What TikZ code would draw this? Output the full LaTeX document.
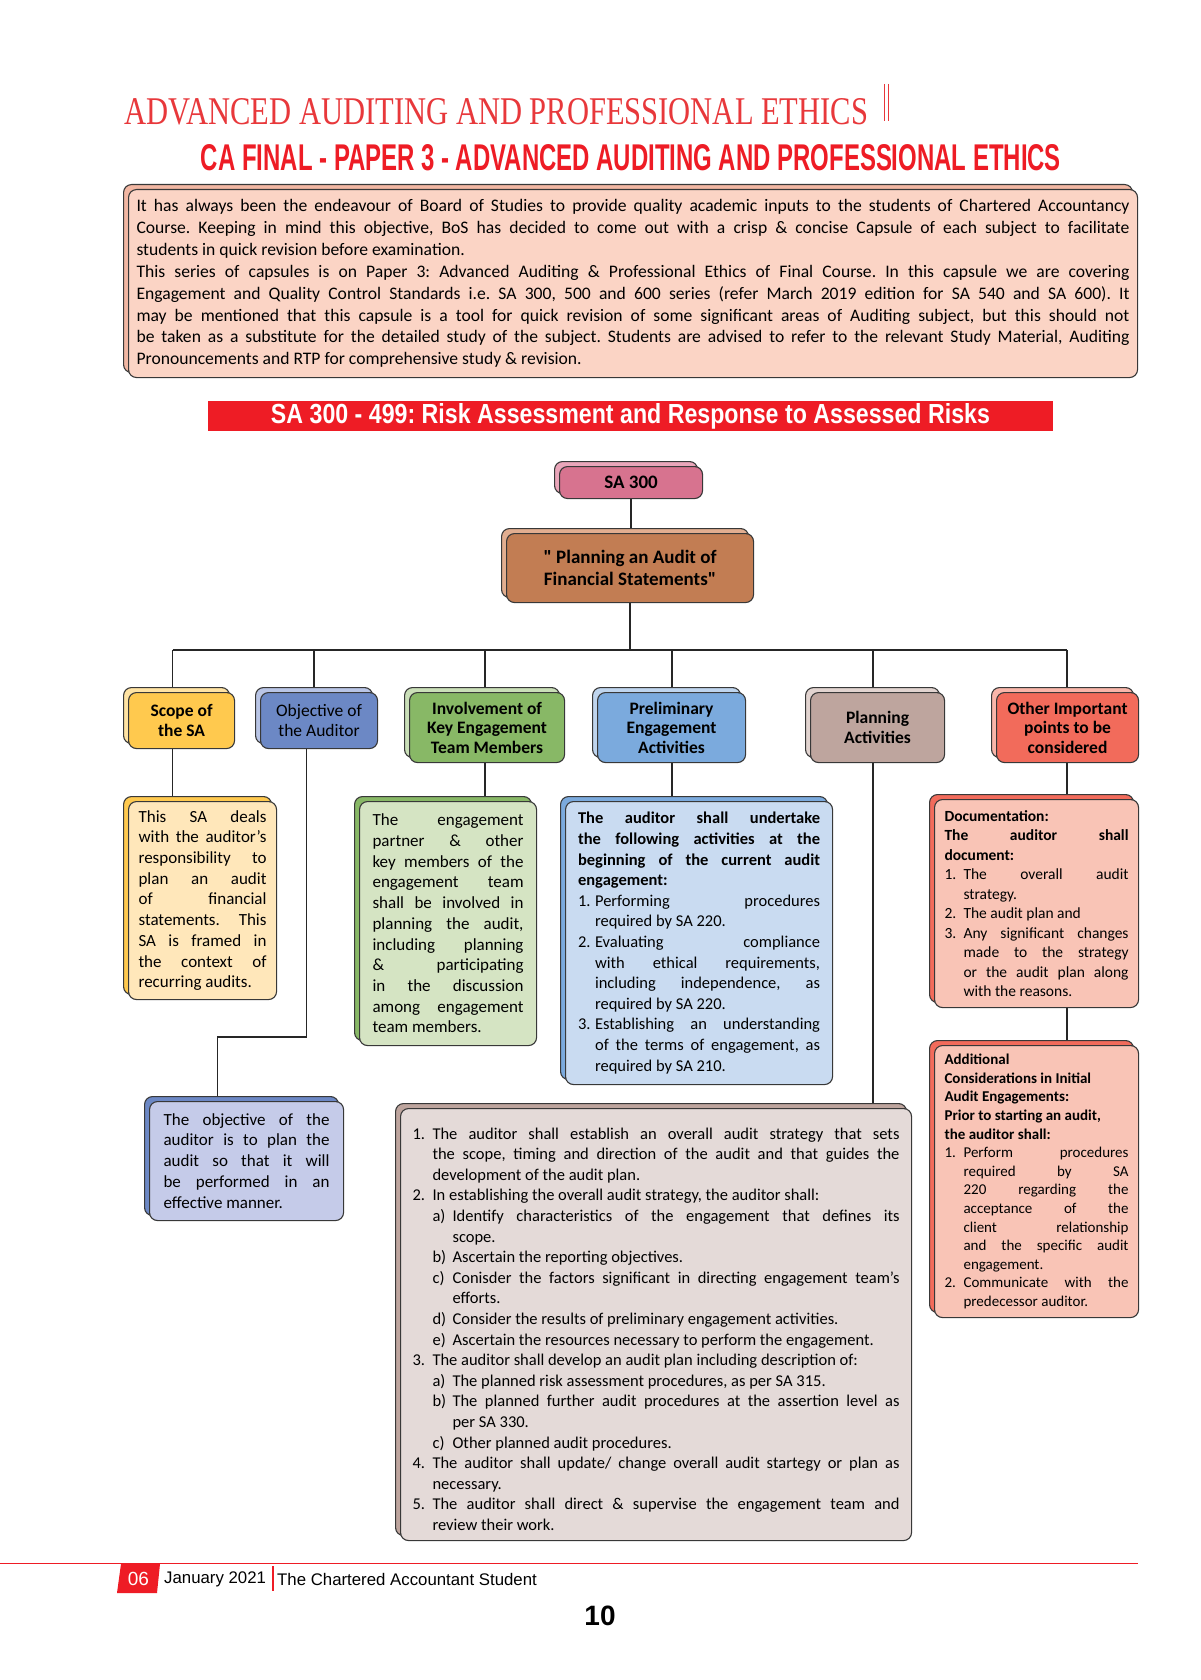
\documentclass[tikz,border=0pt]{standalone}
\usepackage{fontspec}
\setmainfont{Carlito}
\newfontfamily\arialf{Liberation Sans}
\newfontfamily\hdrf{Liberation Serif}
\usetikzlibrary{shadows}
\pgfdeclarelayer{bg}
\pgfsetlayers{bg,main}
\definecolor{hdrred}{HTML}{E8383B}
\definecolor{bannerred}{HTML}{EE1C25}
\definecolor{introF}{HTML}{FBD4C5}
\definecolor{introB}{HTML}{F2B7A3}
\definecolor{saF}{HTML}{D7738F}
\definecolor{saB}{HTML}{EAA6BA}
\definecolor{plF}{HTML}{C27D53}
\definecolor{plB}{HTML}{E2AE90}
\definecolor{scF}{HTML}{FFC94E}
\definecolor{scB}{HTML}{FFE3A3}
\definecolor{obF}{HTML}{6C88C5}
\definecolor{obB}{HTML}{B9C5E6}
\definecolor{inF}{HTML}{88B866}
\definecolor{inB}{HTML}{CADFB8}
\definecolor{prF}{HTML}{7BAADD}
\definecolor{prB}{HTML}{BFD5EE}
\definecolor{paF}{HTML}{BEA59E}
\definecolor{paB}{HTML}{E2D4D0}
\definecolor{otF}{HTML}{F26B5B}
\definecolor{otB}{HTML}{F9B6AA}
\definecolor{scD}{HTML}{FFE7BA}
\definecolor{obD}{HTML}{C5CBE9}
\definecolor{inD}{HTML}{D5E4C3}
\definecolor{prD}{HTML}{C9DBF1}
\definecolor{paD}{HTML}{E4DAD8}
\definecolor{otD}{HTML}{F9C4B6}
\newlength\itmind
\newcommand\itm[1]{\par\hangindent=\itmind\hangafter=1\noindent\makebox[\itmind][l]{#1}}
\newcommand\sitm[1]{\par\hangindent=2\itmind\hangafter=1\noindent\hspace*{\itmind}\makebox[\itmind][l]{#1}}
\tolerance=10000 \hbadness=10000 \hyphenpenalty=10000 \exhyphenpenalty=10000
\frenchspacing
\begin{document}
\begin{tikzpicture}[x=1pt,y=-1pt,
  bx/.style={draw=black!78, line width=1.1pt, rounded corners=8pt, inner sep=0pt, anchor=north west},
  lay/.style 2 args={fill=#2, copy shadow={shadow xshift=-5pt, shadow yshift=5pt, fill=#1, draw=black!78, line width=1.1pt}},
  ttl/.style={align=center, font=\bfseries\fontsize{17.5}{19.5}\selectfont},
  txt/.style={align=justify, font=\fontsize{17}{20.7}\selectfont},
  con/.style={draw=black!85, line width=1.3pt}]
\begin{pgfonlayer}{bg}
\fill[white] (0,0) rectangle (1200,1680);
\end{pgfonlayer}
\useasboundingbox (0,0) rectangle (1200,1680);

% header
\node[anchor=west, inner sep=0pt, text=hdrred] (hdr) at (124,112) {\resizebox{744pt}{26pt}{\hdrf ADVANCED AUDITING AND PROFESSIONAL ETHICS}};
\draw[hdrred, line width=0.8pt] (884,84) -- (884,121) (888,84) -- (888,121);
\node[inner sep=0pt, text=bannerred] (cafinal) at (631,158) {\resizebox{860pt}{26pt}{\arialf\bfseries CA FINAL - PAPER 3 - ADVANCED AUDITING AND PROFESSIONAL ETHICS}};

% intro
\node[bx, lay={introB}{introF}, minimum width=1009pt, minimum height=188pt, text width=993pt, align=justify, font=\fontsize{17.6}{21.9}\selectfont] (intro) at (128,189) {\frenchspacing It has always been the endeavour of Board of Studies to provide quality academic inputs to the students of Chartered Accountancy\linebreak Course. Keeping in mind this objective, BoS has decided to come out with a crisp \& concise Capsule of each subject to facilitate\linebreak students in quick revision before examination.\par
This series of capsules is on Paper 3: Advanced Auditing \& Professional Ethics of Final Course. In this capsule we are covering\linebreak Engagement and Quality Control Standards i.e. SA 300, 500 and 600 series (refer March 2019 edition for SA 540 and SA 600). It\linebreak may be mentioned that this capsule is a tool for quick revision of some significant areas of Auditing subject, but this should not\linebreak be taken as a substitute for the detailed study of the subject. Students are advised to refer to the relevant Study Material, Auditing\linebreak Pronouncements and RTP for comprehensive study \& revision.\par};

% banner
\node[fill=bannerred, minimum width=845pt, minimum height=30pt, inner sep=0pt, text=white] (banner) at (630.5,416) {\resizebox{719pt}{20pt}{\arialf\bfseries SA 300 - 499: Risk Assessment and Response to Assessed Risks}};

% top boxes
\node[bx, lay={saB}{saF}, minimum width=143pt, minimum height=32pt, font=\bfseries\fontsize{19}{21}\selectfont] (sa) at (559,466) {SA 300};
\node[bx, lay={plB}{plF}, minimum width=247pt, minimum height=69pt, align=center, font=\bfseries\fontsize{19}{22}\selectfont] (plan) at (506,533) {\textquotedbl{} Planning an Audit of\\Financial Statements\textquotedbl};

% category boxes
\node[bx, lay={scB}{scF}, ttl, minimum width=106pt, minimum height=56pt] (scope) at (128,692) {Scope of\\the SA};
\node[bx, lay={obB}{obF}, ttl, font=\mdseries\fontsize{17.5}{19.5}\selectfont, minimum width=117pt, minimum height=56pt] (obj) at (260,692) {Objective of\\the Auditor};
\node[bx, lay={inB}{inF}, ttl, minimum width=155pt, minimum height=70pt] (inv) at (409,692) {Involvement of\\Key Engagement\\Team Members};
\node[bx, lay={prB}{prF}, ttl, minimum width=148pt, minimum height=70pt] (prel) at (597,692) {Preliminary\\Engagement\\Activities};
\node[bx, lay={paB}{paF}, ttl, minimum width=134pt, minimum height=70pt] (pact) at (810,692) {Planning\\Activities};
\node[bx, lay={otB}{otF}, ttl, minimum width=142pt, minimum height=70pt] (other) at (996,692) {Other Important\\points to be\\considered};

% detail boxes
\node[bx, lay={scF}{scD}, txt, minimum width=148pt, minimum height=198pt, text width=128pt] (scopeD) at (128,801) {This SA deals\linebreak with the auditor's\linebreak responsibility to\linebreak plan an audit\linebreak of financial\linebreak statements. This\linebreak SA is framed in\linebreak the context of\linebreak recurring audits.\par};

\node[bx, lay={inF}{inD}, txt, minimum width=177pt, minimum height=244pt, text width=151pt] (invD) at (359,801) {The engagement\linebreak partner \& other\linebreak key members of the\linebreak engagement team\linebreak shall be involved in\linebreak planning the audit,\linebreak including planning\linebreak \& participating\linebreak in the discussion\linebreak among engagement\linebreak team members.\par};

\node[bx, lay={prF}{prD}, txt, font=\fontsize{16.5}{20.6}\selectfont, minimum width=267pt, minimum height=283pt, text width=242pt] (prelD) at (565,801) {\setlength\itmind{17pt}{\bfseries The auditor shall undertake\linebreak the following activities at the\linebreak beginning of the current audit\linebreak engagement:}
\itm{1.}Performing procedures\linebreak required by SA 220.
\itm{2.}Evaluating compliance\linebreak with ethical requirements,\linebreak including independence, as\linebreak required by SA 220.
\itm{3.}Establishing an understanding\linebreak of the terms of engagement, as\linebreak required by SA 210.\par};

\node[bx, lay={obF}{obD}, txt, font=\fontsize{17}{20.9}\selectfont, minimum width=194pt, minimum height=119pt, text width=166pt] (objD) at (149,1101) {The objective of the\linebreak auditor is to plan the\linebreak audit so that it will\linebreak be performed in an\linebreak effective manner.\par};

\node[bx, lay={paF}{paD}, txt, font=\fontsize{16.5}{20.6}\selectfont, minimum width=511pt, minimum height=432pt, text width=487pt] (planD) at (400,1108) {\setlength\itmind{20pt}%
\itm{1.}The auditor shall establish an overall audit strategy that sets\linebreak the scope, timing and direction of the audit and that guides the\linebreak development of the audit plan.
\itm{2.}In establishing the overall audit strategy, the auditor shall:
\sitm{a)}Identify characteristics of the engagement that defines its\linebreak scope.
\sitm{b)}Ascertain the reporting objectives.
\sitm{c)}Conisder the factors significant in directing engagement team's\linebreak efforts.
\sitm{d)}Consider the results of preliminary engagement activities.
\sitm{e)}Ascertain the resources necessary to perform the engagement.
\itm{3.}The auditor shall develop an audit plan including description of:
\sitm{a)}The planned risk assessment procedures, as per SA 315.
\sitm{b)}The planned further audit procedures at the assertion level as\linebreak per SA 330.
\sitm{c)}Other planned audit procedures.
\itm{4.}The auditor shall update/ change overall audit startegy or plan as\linebreak necessary.
\itm{5.}The auditor shall direct \& supervise the engagement team and\linebreak review their work.\par};

\node[bx, lay={otF}{otD}, txt, font=\fontsize{15.5}{19.5}\selectfont, minimum width=204pt, minimum height=208pt, text width=184pt] (doc) at (934,799) {\setlength\itmind{19pt}{\bfseries Documentation:\par The auditor shall\linebreak document:}
\itm{1.}The overall audit\linebreak strategy.
\itm{2.}The audit plan and
\itm{3.}Any significant changes\linebreak made to the strategy\linebreak or the audit plan along\linebreak with the reasons.\par};

\node[bx, lay={otF}{otD}, txt, font=\fontsize{15}{18.6}\selectfont, minimum width=204pt, minimum height=272pt, text width=184pt] (add) at (934,1045) {\setlength\itmind{19pt}{\bfseries Additional\newline Considerations in Initial\newline Audit Engagements:\newline Prior to starting an audit,\newline the auditor shall:}
\itm{1.}Perform procedures\linebreak required by SA\linebreak 220 regarding the\linebreak acceptance of the\linebreak client relationship\linebreak and the specific audit\linebreak engagement.
\itm{2.}Communicate with the\linebreak predecessor auditor.\par};

% connectors
\coordinate (b1) at (172.5,650);
\coordinate (b2) at (314,650);
\coordinate (b3) at (485,650);
\coordinate (b4) at (672,650);
\coordinate (b5) at (873,650);
\coordinate (b6) at (1067,650);
\coordinate (o1) at (306.5,1037);
\coordinate (o2) at (217.5,1037);
\begin{pgfonlayer}{bg}
\draw[con] (sa.south) -- (sa.south |- plan.north);
\draw[con] (plan.south) -- (plan.south |- b1);
\draw[con] (b1) -- (b6);
\draw[con] (b1) -- (b1 |- scope.north);
\draw[con] (b2) -- (b2 |- obj.north);
\draw[con] (b3) -- (b3 |- inv.north);
\draw[con] (b4) -- (b4 |- prel.north);
\draw[con] (b5) -- (b5 |- pact.north);
\draw[con] (b6) -- (b6 |- other.north);
\draw[con] (b1 |- scope.south) -- (b1 |- scopeD.north);
\draw[con] (o1 |- obj.south) -- (o1) -- (o2) -- (o2 |- objD.north);
\draw[con] (b3 |- inv.south) -- (b3 |- invD.north);
\draw[con] (b4 |- prel.south) -- (b4 |- prelD.north);
\draw[con] (b5 |- pact.south) -- (b5 |- planD.north);
\draw[con] (b6 |- other.south) -- (b6 |- doc.north);
\draw[con] (b6 |- doc.south) -- (b6 |- add.north);
\end{pgfonlayer}

% footer
\draw[bannerred, line width=1pt] (0,1563) -- (1138,1563);
\fill[bannerred] (121,1564) -- (160,1564) -- (157,1593) -- (117,1593) -- cycle;
\node[inner sep=0pt, text=white, font=\arialf\fontsize{19}{22}\selectfont] (pgno) at (138.5,1579) {06};
\node[anchor=west, inner sep=0pt, font=\arialf\fontsize{16.8}{20}\selectfont] (date) at (164,1579) {January 2021};
\draw[bannerred, line width=2.2pt] (273,1566) -- (273,1591);
\node[anchor=west, inner sep=0pt, font=\arialf\fontsize{16.8}{20}\selectfont] (mag) at (277,1579) {The Chartered Accountant Student};
\node[inner sep=0pt, font=\arialf\bfseries\fontsize{28}{30}\selectfont] (page) at (600,1616) {10};
\end{tikzpicture}
\end{document}
